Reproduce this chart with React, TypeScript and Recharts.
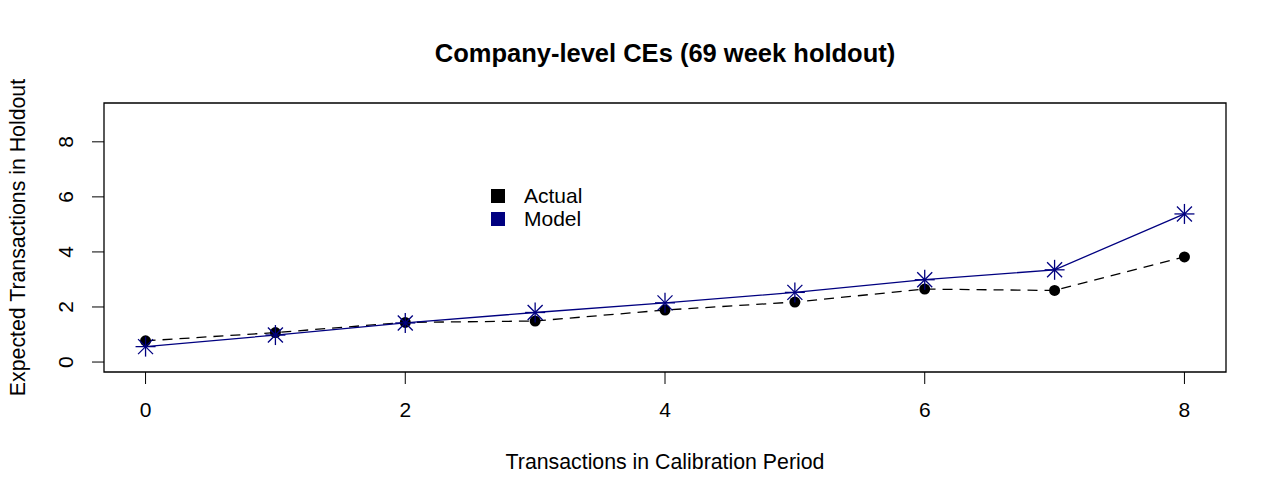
import React from 'react';
import { LineChart, Line, XAxis, YAxis, ReferenceArea, Customized } from 'recharts';

const calibration = [0, 1, 2, 3, 4, 5, 6, 7, 8];
const actualValues = [0.77, 1.07, 1.44, 1.49, 1.89, 2.18, 2.65, 2.6, 3.82];
const modelValues = [0.56, 0.98, 1.42, 1.8, 2.15, 2.53, 2.99, 3.35, 5.38];
const xTicks = [0, 2, 4, 6, 8];
const yTicks = [0, 2, 4, 6, 8];
const xDomain: [number, number] = [-0.32, 8.32];
const yDomain: [number, number] = [-0.362, 9.41];

const data = calibration.map((x, i) => ({ x, actual: actualValues[i], model: modelValues[i] }));

const FONT = 'Liberation Sans, Arial, sans-serif';
const NAVY = '#000080';

const AsteriskDot = (props: any) => {
  const { cx, cy } = props;
  if (cx == null || cy == null) return null;
  const r = 10;
  const d = 7.5;
  return (
    <g stroke={NAVY} strokeWidth={1.3}>
      <line x1={cx} y1={cy - r} x2={cx} y2={cy + r} />
      <line x1={cx - r} y1={cy} x2={cx + r} y2={cy} />
      <line x1={cx - d} y1={cy - d} x2={cx + d} y2={cy + d} />
      <line x1={cx - d} y1={cy + d} x2={cx + d} y2={cy - d} />
    </g>
  );
};

const CircleDot = (props: any) => {
  const { cx, cy } = props;
  if (cx == null || cy == null) return null;
  return <circle cx={cx} cy={cy} r={5.5} fill="#000" />;
};

const YTick = (props: any) => {
  const { x, y, payload } = props;
  return (
    <text
      transform={`translate(${x - 17},${y}) rotate(-90)`}
      textAnchor="middle"
      fontFamily={FONT}
      fontSize={21}
      fill="#000"
    >
      {payload.value}
    </text>
  );
};

const Annotations = () => (
  <g fontFamily={FONT} fill="#000">
    <text x={665} y={62} textAnchor="middle" fontSize={25.5} fontWeight="bold">
      Company-level CEs (69 week holdout)
    </text>
    <text x={665} y={469} textAnchor="middle" fontSize={21.3}>
      Transactions in Calibration Period
    </text>
    <text transform="translate(25,237.5) rotate(-90)" textAnchor="middle" fontSize={21.3}>
      Expected Transactions in Holdout
    </text>
    <rect x={491} y={189} width={14} height={14} fill="#000" />
    <rect x={491} y={212} width={14} height={14} fill={NAVY} />
    <text x={524} y={203} fontSize={21}>Actual</text>
    <text x={524} y={226} fontSize={21}>Model</text>
  </g>
);

export default function App() {
  return (
    <div style={{ position: 'absolute', left: 0, top: 0, width: 1280, height: 502, background: '#fff' }}>
      <LineChart
        width={1280}
        height={502}
        data={data}
        margin={{ top: 103, right: 54, left: 0, bottom: 0 }}
      >
        <XAxis
          dataKey="x"
          type="number"
          domain={xDomain}
          ticks={xTicks}
          allowDataOverflow
          height={130}
          axisLine={false}
          tickLine={{ stroke: '#000' }}
          tickSize={12}
          tickMargin={18}
          tick={{ fontFamily: FONT, fontSize: 21, fill: '#000' }}
        />
        <YAxis
          type="number"
          domain={yDomain}
          ticks={yTicks}
          allowDataOverflow
          width={104}
          axisLine={false}
          tickLine={{ stroke: '#000' }}
          tickSize={12}
          tick={<YTick />}
        />
        <ReferenceArea
          x1={xDomain[0]}
          x2={xDomain[1]}
          y1={yDomain[0]}
          y2={yDomain[1]}
          fill="none"
          fillOpacity={0}
          stroke="#000"
          strokeWidth={1.3}
          ifOverflow="visible"
        />
        <Line
          type="linear"
          dataKey="actual"
          stroke="#000"
          strokeWidth={1.3}
          strokeDasharray="10 7"
          dot={<CircleDot />}
          activeDot={false}
          isAnimationActive={false}
        />
        <Line
          type="linear"
          dataKey="model"
          stroke={NAVY}
          strokeWidth={1.3}
          dot={<AsteriskDot />}
          activeDot={false}
          isAnimationActive={false}
        />
        <Customized component={Annotations} />
      </LineChart>
    </div>
  );
}
